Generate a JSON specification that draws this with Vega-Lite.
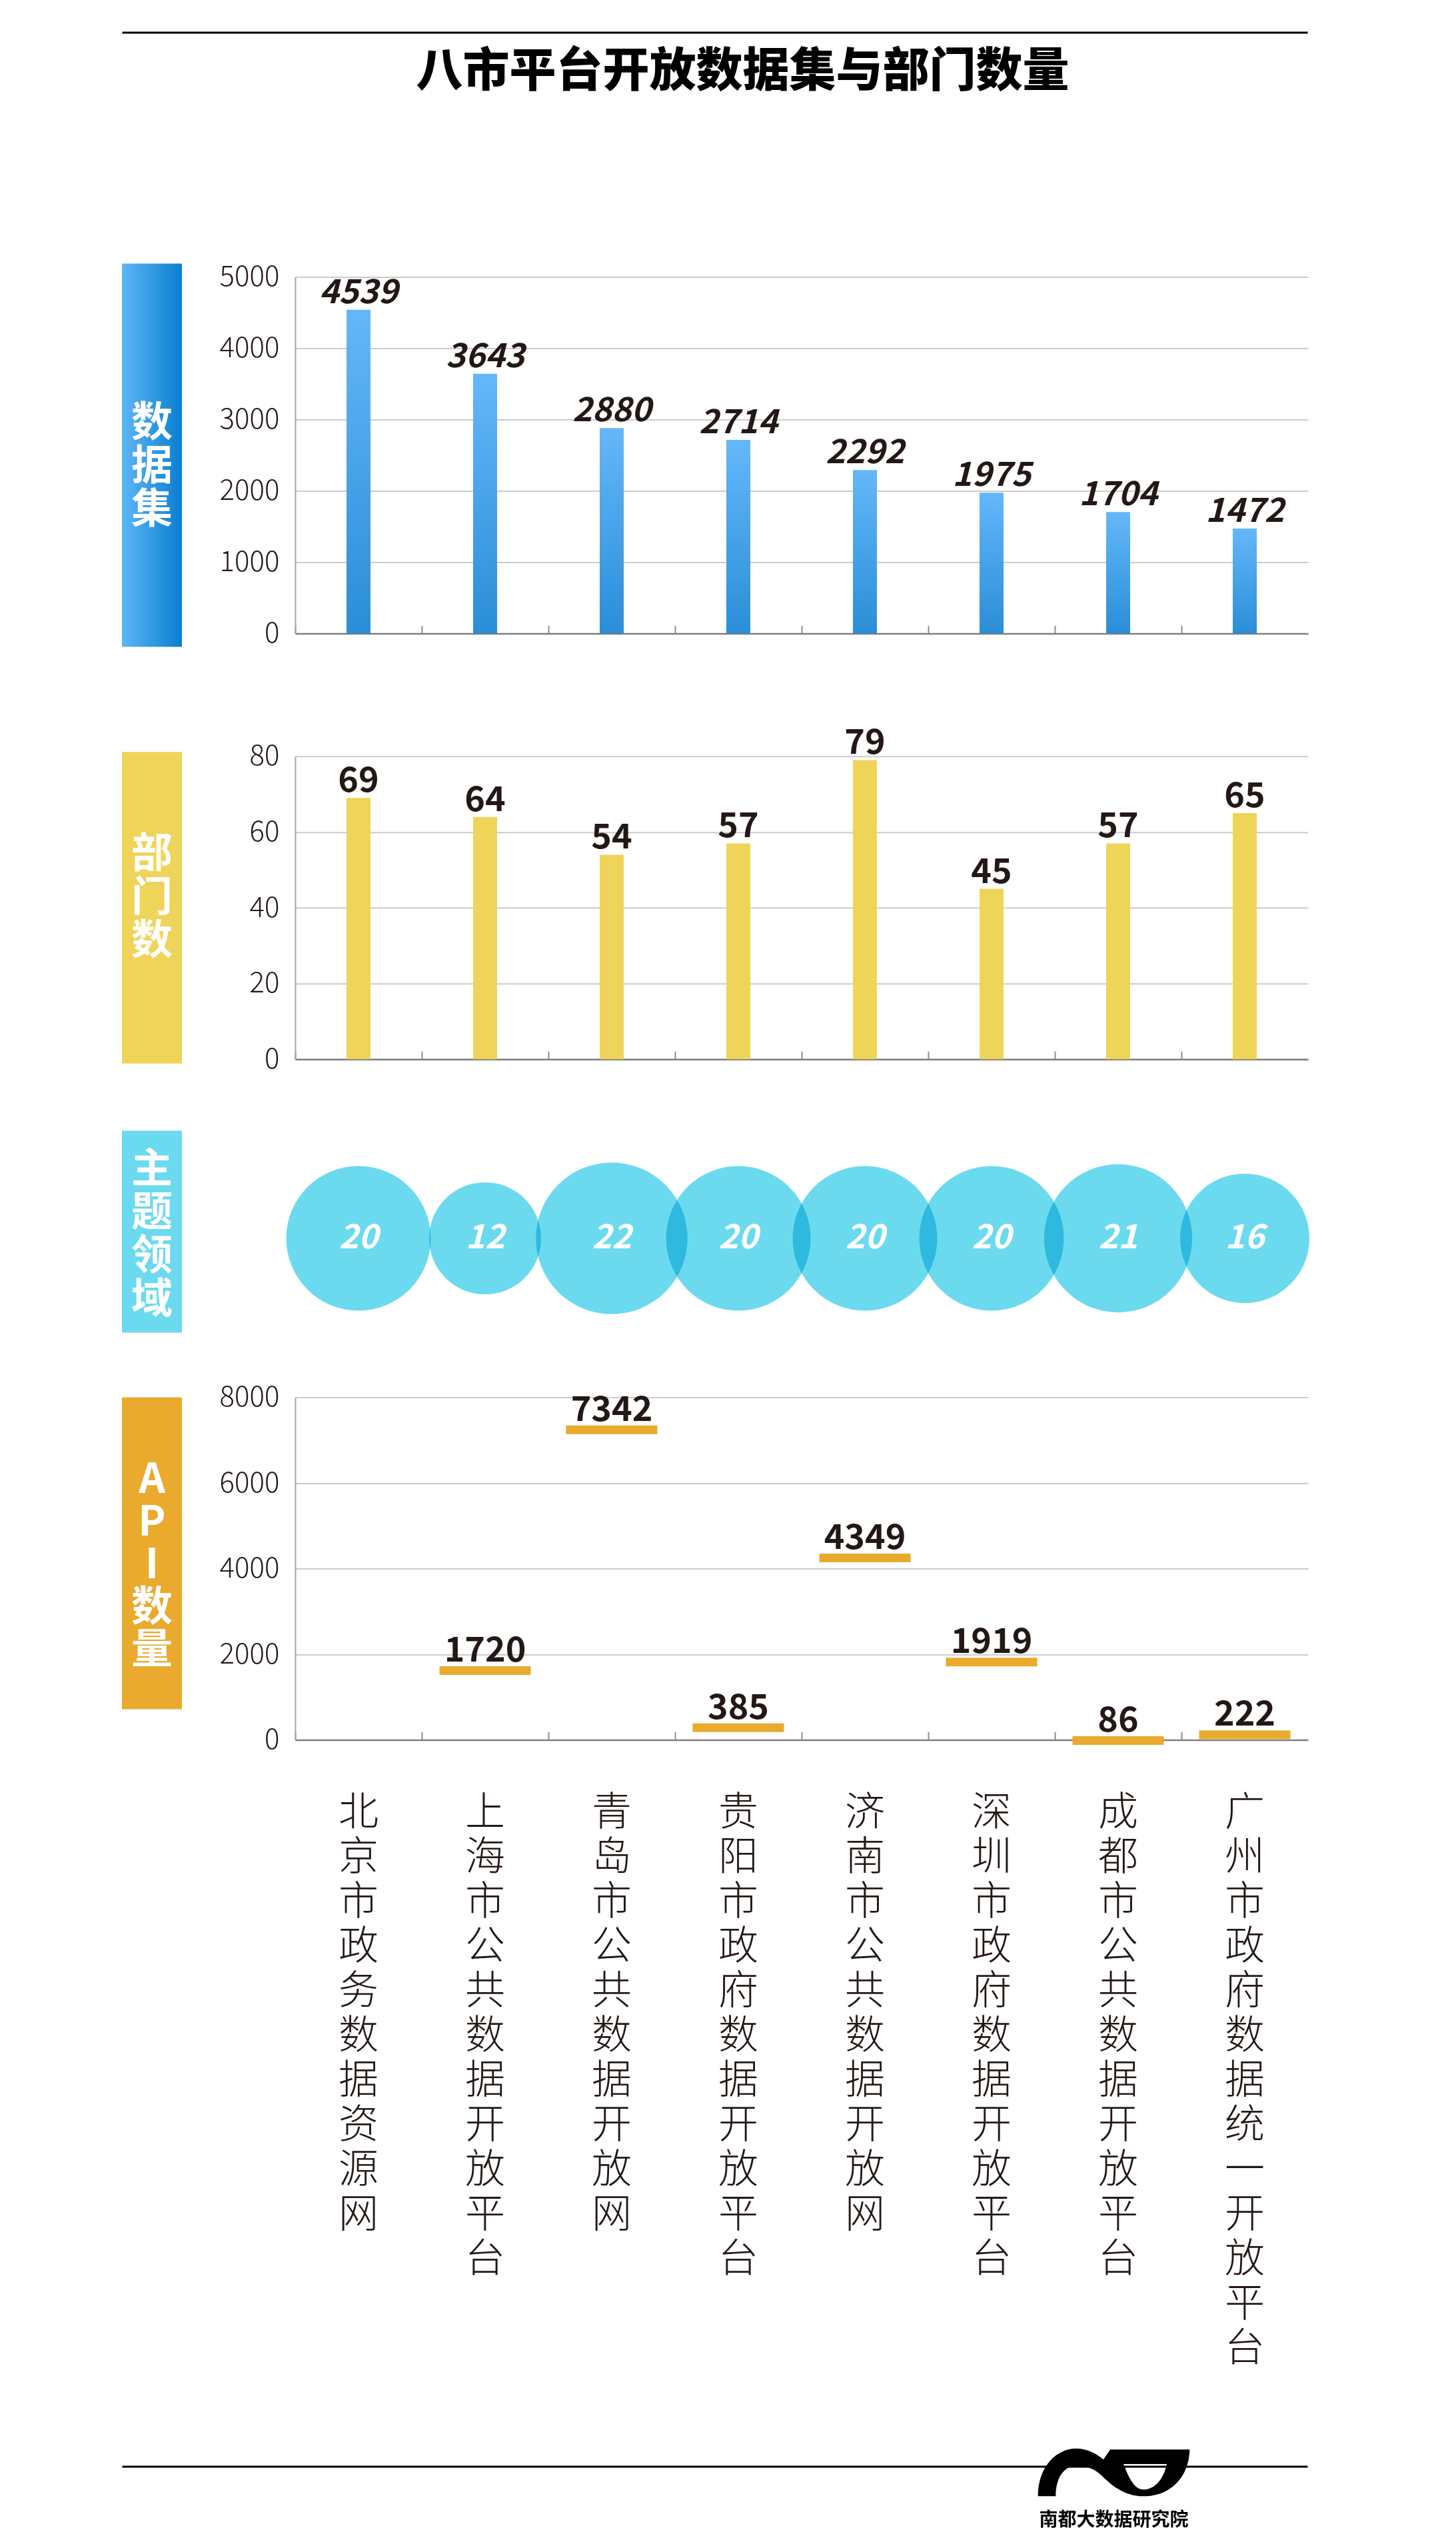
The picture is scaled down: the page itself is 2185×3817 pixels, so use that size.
{
  "$schema": "https://vega.github.io/schema/vega-lite/v6.json",
  "padding": {"left": 183, "top": 48.5, "right": 0, "bottom": 20},
  "background": "#ffffff",
  "config": {
    "view": {"stroke": null},
    "font": "Noto Sans CJK SC",
    "axis": {"labelFont": "Noto Sans CJK SC", "titleFont": "Noto Sans CJK SC"}
  },
  "datasets": {
    "cities": [
      {"city": "北京市政务数据资源网", "datasets": 4539, "depts": 69, "themes": 20, "api": null},
      {"city": "上海市公共数据开放平台", "datasets": 3643, "depts": 64, "themes": 12, "api": 1720},
      {"city": "青岛市公共数据开放网", "datasets": 2880, "depts": 54, "themes": 22, "api": 7342},
      {"city": "贵阳市政府数据开放平台", "datasets": 2714, "depts": 57, "themes": 20, "api": 385},
      {"city": "济南市公共数据开放网", "datasets": 2292, "depts": 79, "themes": 20, "api": 4349},
      {"city": "深圳市政府数据开放平台", "datasets": 1975, "depts": 45, "themes": 20, "api": 1919},
      {"city": "成都市公共数据开放平台", "datasets": 1704, "depts": 57, "themes": 21, "api": 86},
      {"city": "广州市政府数据统一开放平台", "datasets": 1472, "depts": 65, "themes": 16, "api": 222}
    ]
  },
  "vconcat": [
    {
      "width": 1779,
      "height": 234,
      "data": {"values": [{"title": "八市平台开放数据集与部门数量"}]},
      "mark": {"type": "text", "fontSize": 70, "fontWeight": 900, "color": "#000000", "baseline": "middle", "align": "center", "dx": 42, "dy": -57},
      "encoding": {
        "x": {"field": "title", "type": "nominal", "scale": {"type": "band", "paddingInner": 0, "paddingOuter": 0},
          "axis": {"orient": "top", "title": null, "labels": false, "ticks": false, "domainColor": "#000000", "domainWidth": 3}},
        "text": {"field": "title"}
      }
    },
    {
      "vconcat": [
        {
          "vconcat": [
            {
              "hconcat": [
                {
                  "width": 90, "height": 575,
                  "data": {"values": [{"label": "数\n据\n集"}]},
                  "layer": [
                    {"mark": {"type": "rect", "color": {"gradient": "linear", "x1": 0, "y1": 0, "x2": 1, "y2": 0, "stops": [{"offset": 0, "color": "#5db6f6"}, {"offset": 1, "color": "#0a7ecf"}]}}},
                    {"mark": {"type": "text", "color": "#ffffff", "fontSize": 62, "fontWeight": 700, "lineHeight": 65, "lineBreak": "\n", "baseline": "middle", "align": "center", "dy": -47}, "encoding": {"text": {"field": "label"}}}
                  ]
                },
                {
                  "width": 1520, "height": 535,
                  "data": {"name": "cities"},
                  "encoding": {
                    "x": {"field": "city", "type": "nominal", "sort": null,
                      "scale": {"type": "band", "paddingInner": 0, "paddingOuter": 0, "domain": ["北京市政务数据资源网", "上海市公共数据开放平台", "青岛市公共数据开放网", "贵阳市政府数据开放平台", "济南市公共数据开放网", "深圳市政府数据开放平台", "成都市公共数据开放平台", "广州市政府数据统一开放平台"]},
                      "axis": {"labels": false, "title": null, "ticks": true, "tickSize": -12, "bandPosition": 0, "domainColor": "#7f7f7f", "domainWidth": 2.5, "tickColor": "#8c8c8c", "tickWidth": 2, "grid": false}}
                  },
                  "layer": [
                    {
                      "mark": {"type": "bar", "width": 36, "color": {"gradient": "linear", "x1": 0, "y1": 0, "x2": 0, "y2": 1, "stops": [{"offset": 0, "color": "#64b7f9"}, {"offset": 1, "color": "#2a8ed7"}]}},
                      "encoding": {
                        "y": {"field": "datasets", "type": "quantitative", "scale": {"domain": [0, 5000], "nice": false},
                          "axis": {"values": [0, 1000, 2000, 3000, 4000, 5000], "format": "d", "title": null, "grid": true, "gridColor": "#cccccc", "gridWidth": 2, "domain": true, "domainColor": "#a6a6a6", "domainWidth": 2, "ticks": false, "labelFontSize": 42, "labelFontWeight": 300, "labelColor": "#231815", "labelPadding": 24}}
                      }
                    },
                    {
                      "mark": {"type": "text", "fontSize": 50, "fontWeight": 700, "fontStyle": "italic", "color": "#231815", "baseline": "alphabetic", "align": "center", "dy": -10},
                      "encoding": {
                        "y": {"field": "datasets", "type": "quantitative"},
                        "text": {"field": "datasets", "type": "quantitative", "format": "d"}
                      }
                    }
                  ]
                }
              ],
              "spacing": 170, "bounds": "flush", "center": true, "align": "each"
            },
            {
              "vconcat": [
                {
                  "hconcat": [
                    {
                      "width": 90, "height": 467.5,
                      "data": {"values": [{"label": "部\n门\n数"}]},
                      "layer": [
                        {"mark": {"type": "rect", "color": "#efd45a"}},
                        {"mark": {"type": "text", "color": "#ffffff", "fontSize": 62, "fontWeight": 700, "lineHeight": 65, "lineBreak": "\n", "baseline": "middle", "align": "center", "dy": -79}, "encoding": {"text": {"field": "label"}}}
                      ]
                    },
                    {
                      "width": 1520, "height": 454.5,
                      "data": {"name": "cities"},
                      "encoding": {
                        "x": {"field": "city", "type": "nominal", "sort": null,
                          "scale": {"type": "band", "paddingInner": 0, "paddingOuter": 0, "domain": ["北京市政务数据资源网", "上海市公共数据开放平台", "青岛市公共数据开放网", "贵阳市政府数据开放平台", "济南市公共数据开放网", "深圳市政府数据开放平台", "成都市公共数据开放平台", "广州市政府数据统一开放平台"]},
                          "axis": {"labels": false, "title": null, "ticks": true, "tickSize": -12, "bandPosition": 0, "domainColor": "#7f7f7f", "domainWidth": 2.5, "tickColor": "#8c8c8c", "tickWidth": 2, "grid": false}}
                      },
                      "layer": [
                        {
                          "mark": {"type": "bar", "width": 36, "color": "#efd45a"},
                          "encoding": {
                            "y": {"field": "depts", "type": "quantitative", "scale": {"domain": [0, 80], "nice": false},
                              "axis": {"values": [0, 20, 40, 60, 80], "format": "d", "title": null, "grid": true, "gridColor": "#cccccc", "gridWidth": 2, "domain": true, "domainColor": "#a6a6a6", "domainWidth": 2, "ticks": false, "labelFontSize": 42, "labelFontWeight": 300, "labelColor": "#231815", "labelPadding": 24}}
                          }
                        },
                        {
                          "mark": {"type": "text", "fontSize": 52, "fontWeight": 700, "color": "#231815", "baseline": "alphabetic", "align": "center", "dy": -9},
                          "encoding": {
                            "y": {"field": "depts", "type": "quantitative"},
                            "text": {"field": "depts", "type": "quantitative", "format": "d"}
                          }
                        }
                      ]
                    }
                  ],
                  "spacing": 170, "bounds": "flush", "center": true, "align": "each"
                },
                {
                  "vconcat": [
                    {
                      "hconcat": [
                        {
                          "width": 90, "height": 303,
                          "data": {"values": [{"label": "主\n题\n领\n域"}]},
                          "layer": [
                            {"mark": {"type": "rect", "color": "#6cdaee"}},
                            {"mark": {"type": "text", "color": "#ffffff", "fontSize": 62, "fontWeight": 700, "lineHeight": 65, "lineBreak": "\n", "baseline": "middle", "align": "center", "dy": -92.5}, "encoding": {"text": {"field": "label"}}}
                          ]
                        },
                        {
                          "width": 1520, "height": 303,
                          "data": {"name": "cities"},
                          "encoding": {
                            "x": {"field": "city", "type": "nominal", "sort": null,
                              "scale": {"type": "band", "paddingInner": 0, "paddingOuter": 0, "domain": ["北京市政务数据资源网", "上海市公共数据开放平台", "青岛市公共数据开放网", "贵阳市政府数据开放平台", "济南市公共数据开放网", "深圳市政府数据开放平台", "成都市公共数据开放平台", "广州市政府数据统一开放平台"]},
                              "axis": null}
                          },
                          "layer": [
                            {
                              "mark": {"type": "point", "filled": true, "shape": "circle", "color": "#6cdaee", "opacity": 1, "blend": "multiply", "yOffset": 10},
                              "encoding": {
                                "size": {"field": "themes", "type": "quantitative", "scale": {"domain": [0, 22], "range": [0, 51800], "zero": true}, "legend": null}
                              }
                            },
                            {
                              "mark": {"type": "text", "color": "#ffffff", "fontSize": 50, "fontWeight": 700, "fontStyle": "italic", "baseline": "middle", "align": "center", "yOffset": 10},
                              "encoding": {"text": {"field": "themes", "type": "quantitative", "format": "d"}}
                            }
                          ]
                        }
                      ],
                      "spacing": 170, "bounds": "flush", "center": true, "align": "each"
                    },
                    {
                      "hconcat": [
                        {
                          "width": 90, "height": 468,
                          "data": {"values": [{"label": "A\nP\nI\n数\n量"}]},
                          "layer": [
                            {"mark": {"type": "rect", "color": "#e9aa2d"}},
                            {"mark": {"type": "text", "color": "#ffffff", "fontSize": 62, "fontWeight": 700, "lineHeight": 64, "lineBreak": "\n", "baseline": "middle", "align": "center", "dy": -110}, "encoding": {"text": {"field": "label"}}}
                          ]
                        },
                        {
                          "width": 1520, "height": 514,
                          "data": {"name": "cities"},
                          "encoding": {
                            "x": {"field": "city", "type": "nominal", "sort": null,
                              "scale": {"type": "band", "paddingInner": 0, "paddingOuter": 0, "domain": ["北京市政务数据资源网", "上海市公共数据开放平台", "青岛市公共数据开放网", "贵阳市政府数据开放平台", "济南市公共数据开放网", "深圳市政府数据开放平台", "成都市公共数据开放平台", "广州市政府数据统一开放平台"]},
                              "axis": {"title": null, "ticks": true, "tickSize": -12, "bandPosition": 0, "domainColor": "#7f7f7f", "domainWidth": 2.5, "tickColor": "#8c8c8c", "tickWidth": 2, "grid": false,
                                "labels": true, "labelExpr": "split(datum.label, '')", "labelAngle": 0, "labelFontSize": 60, "labelFontWeight": 300, "labelLineHeight": 67, "labelBaseline": "top", "labelAlign": "center", "labelPadding": 93, "labelLimit": 0, "labelOverlap": false, "labelBound": false, "labelFlush": false, "labelColor": "#231815"}}
                          },
                          "layer": [
                            {
                              "transform": [{"filter": "isValid(datum.api)"}],
                              "mark": {"type": "tick", "color": "#e9aa2d", "thickness": 13, "size": 137, "yOffset": 6.5, "opacity": 1},
                              "encoding": {
                                "y": {"field": "api", "type": "quantitative", "scale": {"domain": [0, 8000], "nice": false},
                                  "axis": {"values": [0, 2000, 4000, 6000, 8000], "format": "d", "title": null, "grid": true, "gridColor": "#cccccc", "gridWidth": 2, "domain": true, "domainColor": "#a6a6a6", "domainWidth": 2, "ticks": false, "labelFontSize": 42, "labelFontWeight": 300, "labelColor": "#231815", "labelPadding": 24}}
                              }
                            },
                            {
                              "transform": [{"filter": "isValid(datum.api)"}],
                              "mark": {"type": "text", "fontSize": 52, "fontWeight": 700, "color": "#231815", "baseline": "alphabetic", "align": "center", "dy": -7},
                              "encoding": {
                                "y": {"field": "api", "type": "quantitative"},
                                "text": {"field": "api", "type": "quantitative", "format": "d"}
                              }
                            }
                          ]
                        }
                      ],
                      "spacing": 170, "bounds": "flush", "center": false, "align": "each"
                    }
                  ],
                  "spacing": 76, "align": "each"
                }
              ],
              "spacing": 85.5, "align": "each"
            }
          ],
          "spacing": 117.5, "align": "each"
        },
        {
          "width": 1779,
          "height": 18,
          "data": {"values": [{"org": "南都大数据研究院"}]},
          "encoding": {
            "x": {"field": "org", "type": "nominal", "scale": {"type": "band", "paddingInner": 0, "paddingOuter": 0},
              "axis": {"orient": "top", "title": null, "labels": false, "ticks": false, "domainColor": "#000000", "domainWidth": 3}}
          },
          "layer": [
            {
              "mark": {"type": "point", "shape": "M-1,0.3148 C-1,-0.0952 -0.7364,-0.3148 -0.5022,-0.3148 C-0.3411,-0.3148 -0.224,-0.2416 -0.1362,-0.1684 L-0.0483,-0.3001 L1,-0.3001 C0.9912,0.0659 0.7423,0.3148 0.3909,0.3148 C0.1274,0.3148 -0.0483,0.1537 -0.1654,0.0366 C-0.2826,-0.0659 -0.3704,-0.0805 -0.5022,-0.0805 C-0.6633,-0.0805 -0.7657,0.0805 -0.7657,0.3148 Z M0.1274,-0.1098 C0.2006,0.0805 0.2738,0.2269 0.3909,0.2269 C0.5373,0.2269 0.6544,0.0952 0.6984,-0.1098 Z", "size": 51846, "filled": true, "color": "#000000", "opacity": 1, "xOffset": 599}
            },
            {
              "mark": {"type": "text", "fontSize": 28, "fontWeight": 700, "color": "#000000", "baseline": "middle", "align": "center", "dx": 599, "dy": 72},
              "encoding": {"text": {"field": "org"}}
            }
          ]
        }
      ],
      "spacing": 119, "align": "each"
    }
  ],
  "spacing": 112,
  "align": "each"
}
